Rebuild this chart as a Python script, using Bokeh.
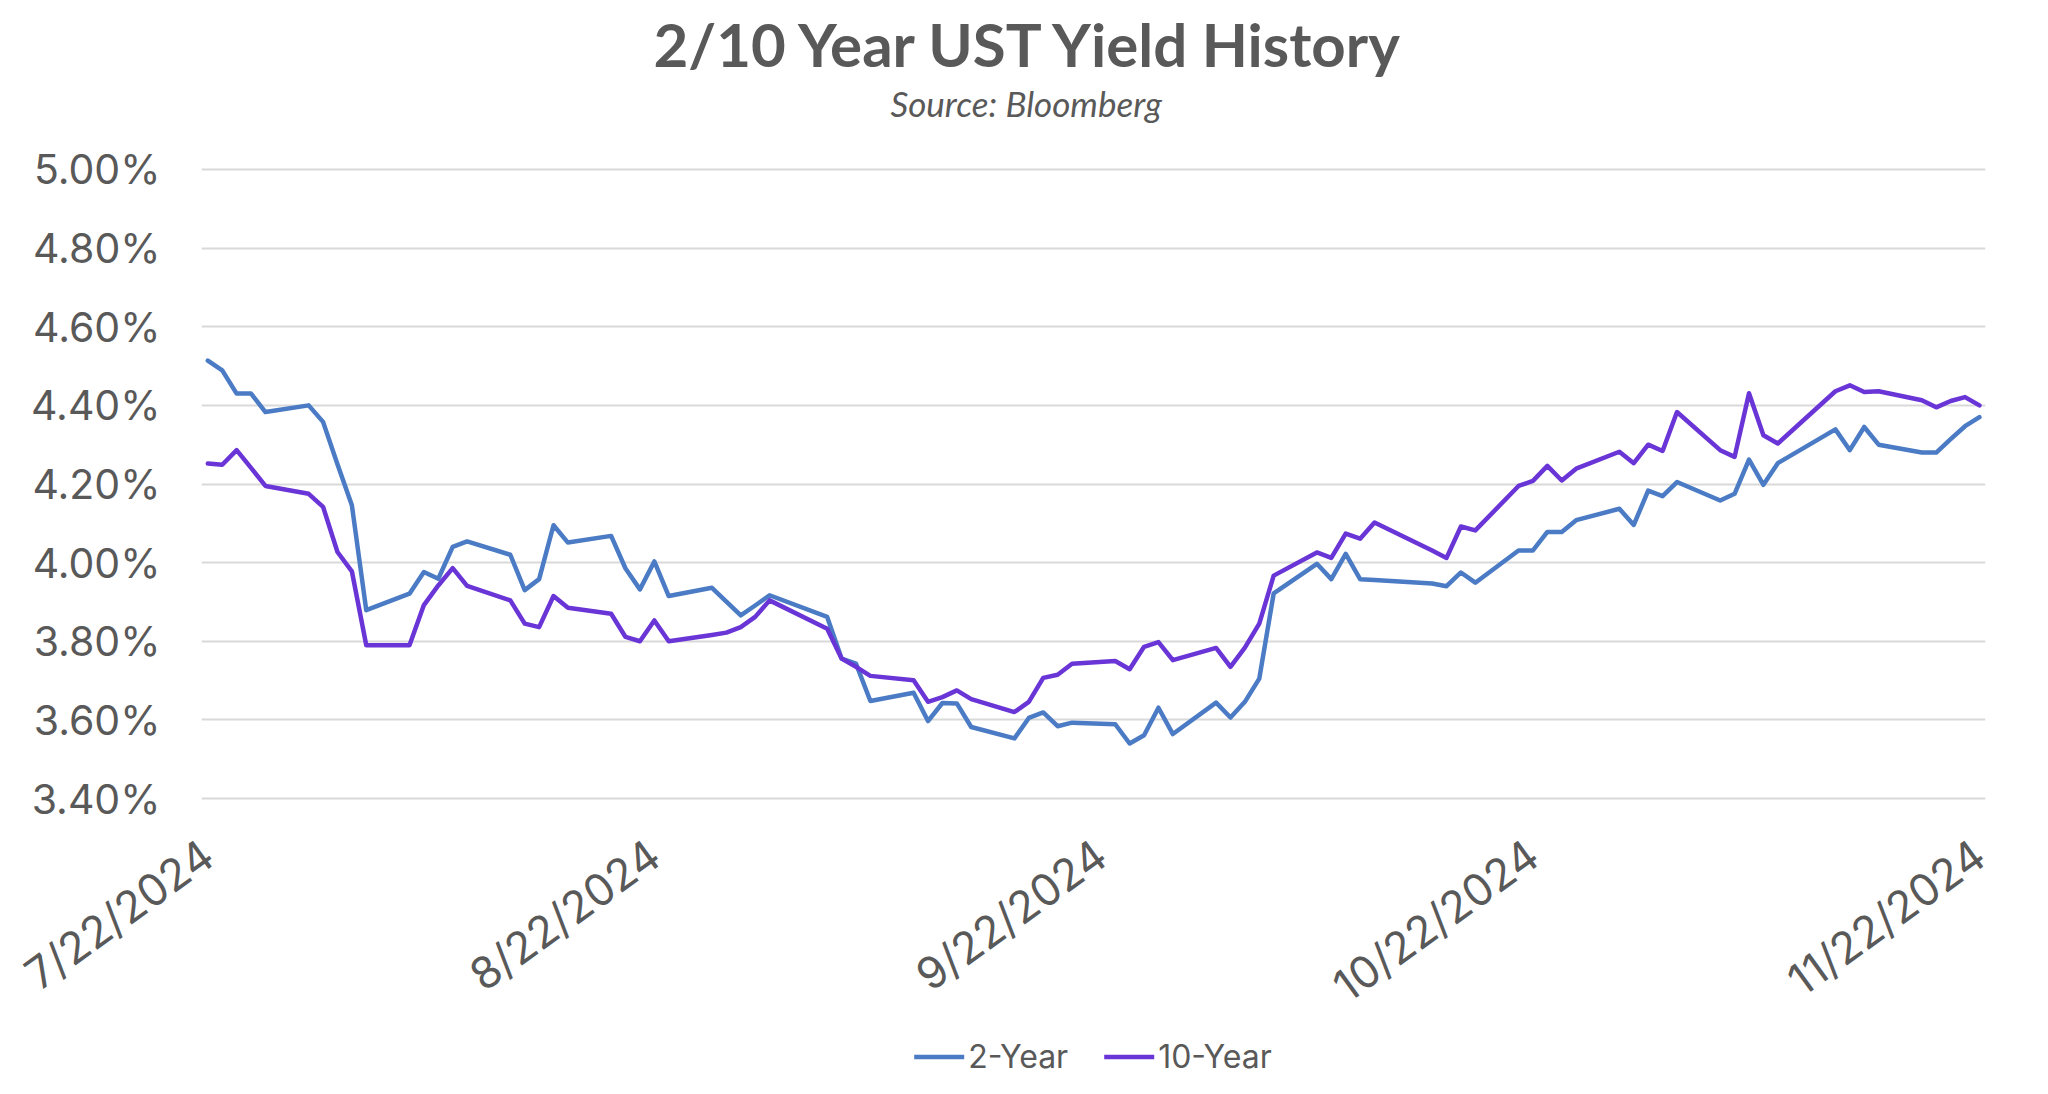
import math
import pandas as pd
from bokeh.plotting import figure
from bokeh.layouts import column
from bokeh.models import (Range1d, FixedTicker, PrintfTickFormatter, Legend,
                          LegendItem, Title, ColumnDataSource)
from bokeh.embed import file_html
from bokeh.resources import INLINE

# ---------------- data ----------------
dates = [
    "2024-07-22", "2024-07-23", "2024-07-24", "2024-07-25", "2024-07-26",
    "2024-07-29", "2024-07-30", "2024-07-31", "2024-08-01", "2024-08-02",
    "2024-08-05", "2024-08-06", "2024-08-07", "2024-08-08", "2024-08-09",
    "2024-08-12", "2024-08-13", "2024-08-14", "2024-08-15", "2024-08-16",
    "2024-08-19", "2024-08-20", "2024-08-21", "2024-08-22", "2024-08-23",
    "2024-08-26", "2024-08-27", "2024-08-28", "2024-08-29", "2024-08-30",
    "2024-09-03", "2024-09-04", "2024-09-05", "2024-09-06",
    "2024-09-09", "2024-09-10", "2024-09-11", "2024-09-12", "2024-09-13",
    "2024-09-16", "2024-09-17", "2024-09-18", "2024-09-19", "2024-09-20",
    "2024-09-23", "2024-09-24", "2024-09-25", "2024-09-26", "2024-09-27",
    "2024-09-30", "2024-10-01", "2024-10-02", "2024-10-03", "2024-10-04",
    "2024-10-07", "2024-10-08", "2024-10-09", "2024-10-10", "2024-10-11",
    "2024-10-15", "2024-10-16", "2024-10-17", "2024-10-18",
    "2024-10-21", "2024-10-22", "2024-10-23", "2024-10-24", "2024-10-25",
    "2024-10-28", "2024-10-29", "2024-10-30", "2024-10-31", "2024-11-01",
    "2024-11-04", "2024-11-05", "2024-11-06", "2024-11-07", "2024-11-08",
    "2024-11-12", "2024-11-13", "2024-11-14", "2024-11-15",
    "2024-11-18", "2024-11-19", "2024-11-20", "2024-11-21", "2024-11-22",
]

two_year = [
    4.514, 4.489, 4.430, 4.430, 4.383,
    4.400, 4.358, 4.250, 4.146, 3.879,
    3.921, 3.976, 3.959, 4.040, 4.054,
    4.020, 3.930, 3.958, 4.095, 4.051,
    4.068, 3.985, 3.932, 4.003, 3.915,
    3.936, 3.901, 3.866, 3.891, 3.917,
    3.862, 3.756, 3.743, 3.648,
    3.669, 3.597, 3.643, 3.642, 3.582,
    3.553, 3.605, 3.619, 3.584, 3.593,
    3.589, 3.540, 3.561, 3.631, 3.564,
    3.644, 3.606, 3.646, 3.705, 3.922,
    3.997, 3.958, 4.022, 3.958, 3.956,
    3.947, 3.940, 3.975, 3.949,
    4.031, 4.031, 4.078, 4.078, 4.108,
    4.137, 4.096, 4.183, 4.169, 4.205,
    4.158, 4.175, 4.262, 4.198, 4.253,
    4.339, 4.286, 4.345, 4.300,
    4.280, 4.280, 4.314, 4.347, 4.370,
]

ten_year = [
    4.252, 4.249, 4.286, 4.241, 4.195,
    4.175, 4.142, 4.027, 3.978, 3.790,
    3.790, 3.892, 3.942, 3.986, 3.941,
    3.904, 3.845, 3.836, 3.915, 3.885,
    3.870, 3.811, 3.800, 3.853, 3.800,
    3.816, 3.822, 3.836, 3.862, 3.904,
    3.832, 3.756, 3.735, 3.712,
    3.701, 3.646, 3.658, 3.675, 3.653,
    3.620, 3.646, 3.707, 3.715, 3.743,
    3.750, 3.729, 3.786, 3.798, 3.752,
    3.783, 3.735, 3.784, 3.845, 3.967,
    4.026, 4.012, 4.074, 4.061, 4.102,
    4.031, 4.012, 4.092, 4.082,
    4.195, 4.208, 4.246, 4.209, 4.239,
    4.282, 4.253, 4.300, 4.284, 4.383,
    4.286, 4.269, 4.431, 4.324, 4.303,
    4.436, 4.451, 4.434, 4.436,
    4.413, 4.395, 4.411, 4.421, 4.400,
]

tick_dates = ["2024-07-22", "2024-08-22", "2024-09-22", "2024-10-22", "2024-11-22"]
tick_labels = ["7/22/2024", "8/22/2024", "9/22/2024", "10/22/2024", "11/22/2024"]
y_ticks = [3.40, 3.60, 3.80, 4.00, 4.20, 4.40, 4.60, 4.80, 5.00]

series_names = ["2-Year", "10-Year"]
series_colors = ["#4a7bc4", "#6a35d6"]

title_text = "2/10 Year UST Yield History"
subtitle_text = "Source: Bloomberg"

# ---------------- build ----------------
start = pd.Timestamp(dates[0])
xs = [(pd.Timestamp(d) - start).days for d in dates]
tick_x = [(pd.Timestamp(d) - start).days for d in tick_dates]

TEXT = "#595959"
TFONT = "Lato"
AFONT = "Inter"

FL, FW, FT, FH = 201, 1784, 167, 633        # frame left, width, top, height
TOTAL_W = 2032
LINE_W = 4.5

p = figure(frame_width=FW, frame_height=FH, output_backend="svg",
           toolbar_location=None,
           x_range=Range1d(-0.44, 123.42), y_range=Range1d(3.395, 5.005),
           min_border_left=FL, min_border_right=TOTAL_W - FL - FW,
           min_border_top=FT, min_border_bottom=0, title=None)
p.outline_line_color = None
p.background_fill_color = "white"
p.border_fill_color = "white"

src = ColumnDataSource(dict(x=xs, two=two_year, ten=ten_year))
p.line("x", "two", source=src, line_color=series_colors[0], line_width=LINE_W,
       line_join="round", line_cap="round")
p.line("x", "ten", source=src, line_color=series_colors[1], line_width=LINE_W,
       line_join="round", line_cap="round")

p.xgrid.visible = False
p.ygrid.grid_line_color = "#d9d9d9"
p.ygrid.grid_line_width = 2

p.yaxis.ticker = FixedTicker(ticks=y_ticks)
p.yaxis.formatter = PrintfTickFormatter(format="%.2f%%")
p.yaxis.major_label_text_font = AFONT
p.yaxis.major_label_text_font_size = "41px"
p.yaxis.major_label_text_color = TEXT
p.yaxis.major_label_standoff = 41

p.xaxis.ticker = FixedTicker(ticks=tick_x)
p.xaxis.major_label_overrides = {tx: lab for tx, lab in zip(tick_x, tick_labels)}
p.xaxis.major_label_orientation = math.radians(36)
p.xaxis.major_label_text_font = AFONT
p.xaxis.major_label_text_font_size = "44px"
p.xaxis.major_label_text_color = TEXT
p.xaxis.major_label_standoff = 49

for ax in (p.xaxis, p.yaxis):
    ax.axis_line_color = None
    ax.major_tick_line_color = None
    ax.minor_tick_line_color = None
    ax.major_tick_out = 0
    ax.major_tick_in = 0

# title block: spacer (next to frame), subtitle, main title
spacer = Title(text=" ", text_font_size="1px", standoff=41)
p.add_layout(spacer, "above")
sub = Title(text=subtitle_text, align="left", offset=689, text_font=TFONT,
            text_font_size="35px", text_font_style="italic", text_color=TEXT,
            standoff=0)
p.add_layout(sub, "above")
main = Title(text=title_text, align="left", offset=452, text_font=TFONT,
             text_font_size="60px", text_font_style="bold", text_color=TEXT,
             standoff=0)
p.add_layout(main, "above")

# ---------------- legend strip (separate small figure under the chart) ----------------
LEG_FIG_H = 38
LEG_SHIFT = 16
pl = figure(width=TOTAL_W, height=LEG_FIG_H, output_backend="svg",
            toolbar_location=None, x_range=Range1d(-20, -10), y_range=Range1d(-20, -10),
            min_border=0, min_border_left=LEG_SHIFT, x_axis_type=None,
            y_axis_type=None, title=None)
pl.outline_line_color = None
pl.grid.visible = False
pl.background_fill_color = "white"
pl.border_fill_color = "white"
# same series, drawn outside this strip's ranges: only their legend keys show
k1 = pl.line("x", "two", source=src, line_color=series_colors[0], line_width=LINE_W,
             line_cap="round")
k2 = pl.line("x", "ten", source=src, line_color=series_colors[1], line_width=LINE_W,
             line_cap="round")

legend = Legend(items=[LegendItem(label=series_names[0], renderers=[k1]),
                       LegendItem(label=series_names[1], renderers=[k2])],
                orientation="horizontal", location="center")
legend.label_text_font = AFONT
legend.label_text_font_size = "32px"
legend.label_text_color = TEXT
legend.glyph_width = 50
legend.glyph_height = 30
legend.label_standoff = 4
legend.spacing = 36
legend.padding = 0
legend.margin = 0
legend.border_line_color = None
legend.background_fill_alpha = 0
pl.add_layout(legend, "center")

layout = column(p, pl, spacing=0)
open("out.html", "w").write(file_html(layout, INLINE))
